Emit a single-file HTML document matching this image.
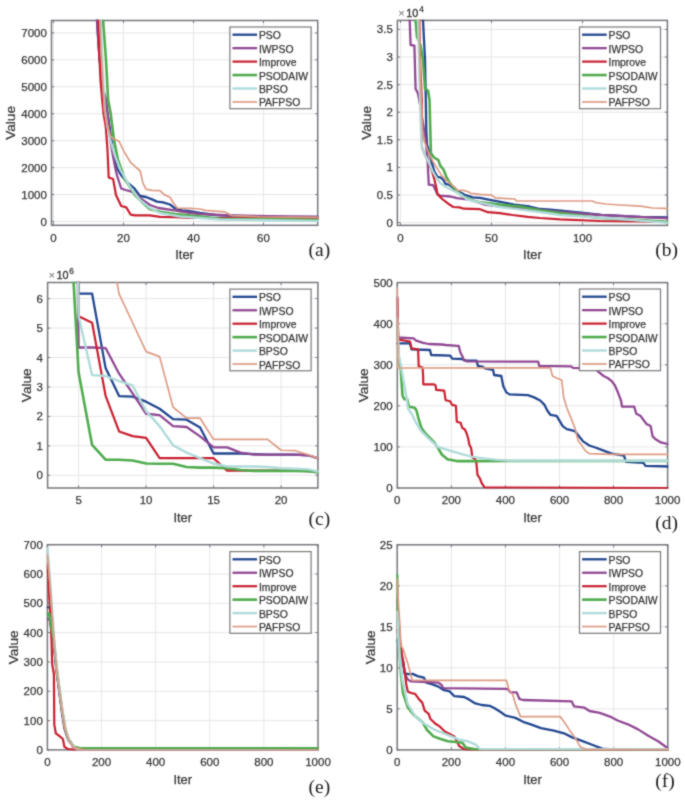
<!DOCTYPE html>
<html><head><meta charset="utf-8"><title>PSO convergence curves</title>
<style>
html,body{margin:0;padding:0;background:#fff;}
body{width:685px;height:801px;overflow:hidden;}
svg{display:block;will-change:transform;}
text{font-family:"Liberation Sans",sans-serif;fill:#363636;stroke:#363636;stroke-width:0.25px;}
.serif{font-family:"Liberation Serif",serif;fill:#1c1c1c;stroke:none;}
</style></head><body>
<svg width="685" height="801" viewBox="0 0 685 801">
<defs><filter id="bl" x="0" y="0" width="685" height="801" filterUnits="userSpaceOnUse" color-interpolation-filters="sRGB"><feConvolveMatrix order="3" kernelMatrix="1 2 1 2 12 2 1 2 1" divisor="24" edgeMode="duplicate" preserveAlpha="true"/></filter></defs>
<g filter="url(#bl)">
<rect width="685" height="801" fill="#fff"/>
<clipPath id="c1"><rect x="50.80" y="19.80" width="267.60" height="206.20"/></clipPath>
<path d="M53.50 20.50V225.30M123.50 20.50V225.30M193.50 20.50V225.30M263.50 20.50V225.30M51.50 221.50H317.70M51.50 194.56H317.70M51.50 167.62H317.70M51.50 140.68H317.70M51.50 113.74H317.70M51.50 86.80H317.70M51.50 59.86H317.70M51.50 32.92H317.70" stroke="#e6e6e6" stroke-width="1" fill="none"/>
<path d="M53.50 225.30v-2.60M53.50 20.50v2.60M123.50 225.30v-2.60M123.50 20.50v2.60M193.50 225.30v-2.60M193.50 20.50v2.60M263.50 225.30v-2.60M263.50 20.50v2.60M51.50 221.50h2.60M317.70 221.50h-2.60M51.50 194.56h2.60M317.70 194.56h-2.60M51.50 167.62h2.60M317.70 167.62h-2.60M51.50 140.68h2.60M317.70 140.68h-2.60M51.50 113.74h2.60M317.70 113.74h-2.60M51.50 86.80h2.60M317.70 86.80h-2.60M51.50 59.86h2.60M317.70 59.86h-2.60M51.50 32.92h2.60M317.70 32.92h-2.60" stroke="#74777c" stroke-width="1" fill="none"/>
<rect x="51.50" y="20.50" width="266.20" height="204.80" fill="none" stroke="#74777c" stroke-width="1.5"/>
<g clip-path="url(#c1)" fill="none" stroke-linejoin="round" stroke-linecap="round">
<path d="M96.50 5.00 L97.00 20.50 L99.00 50.00 L101.50 80.00 L104.00 100.00 L107.50 113.00 L110.00 130.00 L112.50 148.00 L115.00 160.00 L117.00 168.00 L121.00 175.00 L127.00 182.00 L134.00 188.00 L140.00 196.00 L146.00 197.00 L152.00 199.40 L157.00 201.60 L163.00 202.30 L170.00 204.50 L174.50 208.00 L181.80 210.40 L187.60 211.00 L200.00 213.00 L215.00 215.00 L245.00 216.20 L280.00 216.80 L320.00 217.00" stroke="#22468f" stroke-width="2.30"/>
<path d="M96.50 5.00 L97.00 20.50 L98.80 50.00 L102.00 85.00 L106.20 100.00 L108.80 125.00 L110.30 140.00 L112.80 155.00 L115.70 170.00 L117.20 176.00 L121.20 188.50 L125.50 190.00 L130.70 191.40 L135.00 192.80 L140.00 198.00 L150.00 205.00 L158.40 208.00 L174.50 210.40 L187.60 212.50 L200.00 214.00 L230.00 215.50 L320.00 216.80" stroke="#904893" stroke-width="2.30"/>
<path d="M98.00 5.00 L98.50 20.50 L99.10 50.00 L100.50 80.00 L102.20 100.00 L103.60 114.00 L105.80 126.90 L107.50 150.00 L108.70 177.50 L113.10 179.00 L116.00 195.00 L121.20 206.00 L126.30 207.40 L130.70 214.70 L135.00 215.40 L149.60 215.40 L160.00 216.80 L175.00 217.20 L190.00 217.80 L320.00 218.20" stroke="#c91f2f" stroke-width="2.20"/>
<path d="M102.50 5.00 L103.10 20.50 L106.00 60.00 L108.10 100.00 L110.60 113.00 L114.00 140.00 L118.00 160.00 L124.80 179.00 L135.00 195.00 L143.80 203.80 L149.60 208.90 L159.90 211.80 L175.00 214.00 L200.00 216.60 L220.00 218.70 L320.00 219.80" stroke="#4fab4d" stroke-width="2.60"/>
<path d="M99.80 5.00 L100.60 20.50 L101.80 50.00 L103.20 80.00 L104.80 110.00 L107.00 125.00 L110.20 140.00 L114.70 155.00 L120.40 170.00 L124.00 176.00 L130.00 187.00 L140.00 200.00 L150.00 208.00 L160.00 213.00 L180.00 216.50 L220.00 219.50 L320.00 221.00" stroke="#b0dada" stroke-width="2.40"/>
<path d="M99.50 5.00 L100.00 20.50 L101.00 50.00 L102.50 80.00 L104.40 110.00 L107.00 124.00 L110.00 134.50 L111.50 137.50 L119.20 141.50 L123.90 151.40 L130.90 163.00 L132.80 164.40 L140.20 171.00 L143.00 183.40 L146.00 189.20 L151.80 190.40 L160.00 190.60 L164.20 194.60 L170.00 197.20 L173.00 202.30 L177.40 208.20 L190.00 208.40 L200.00 209.00 L205.20 210.40 L225.00 211.90 L231.70 215.60 L245.00 216.20 L260.00 216.80 L320.00 217.40" stroke="#dd9b84" stroke-width="1.70"/>
</g>
<rect x="229.90" y="27.00" width="81.20" height="81.70" fill="#fff" stroke="#7a7a7a" stroke-width="1.2"/>
<path d="M232.50 34.70H257.10" stroke="#22468f" stroke-width="2.30"/>
<text x="258.90" y="39.20" font-size="10.4">PSO</text>
<path d="M232.50 48.15H257.10" stroke="#904893" stroke-width="2.30"/>
<text x="258.90" y="52.65" font-size="10.4">IWPSO</text>
<path d="M232.50 61.60H257.10" stroke="#c91f2f" stroke-width="2.20"/>
<text x="258.90" y="66.10" font-size="10.4">Improve</text>
<path d="M232.50 75.05H257.10" stroke="#4fab4d" stroke-width="2.60"/>
<text x="258.90" y="79.55" font-size="10.4">PSODAIW</text>
<path d="M232.50 88.50H257.10" stroke="#b0dada" stroke-width="2.40"/>
<text x="258.90" y="93.00" font-size="10.4">BPSO</text>
<path d="M232.50 101.95H257.10" stroke="#dd9b84" stroke-width="1.70"/>
<text x="258.90" y="106.45" font-size="10.4">PAFPSO</text>
<text x="53.50" y="241.60" font-size="11.5" text-anchor="middle">0</text>
<text x="123.50" y="241.60" font-size="11.5" text-anchor="middle">20</text>
<text x="193.50" y="241.60" font-size="11.5" text-anchor="middle">40</text>
<text x="263.50" y="241.60" font-size="11.5" text-anchor="middle">60</text>
<text x="46.90" y="225.50" font-size="11.5" text-anchor="end">0</text>
<text x="46.90" y="198.56" font-size="11.5" text-anchor="end">1000</text>
<text x="46.90" y="171.62" font-size="11.5" text-anchor="end">2000</text>
<text x="46.90" y="144.68" font-size="11.5" text-anchor="end">3000</text>
<text x="46.90" y="117.74" font-size="11.5" text-anchor="end">4000</text>
<text x="46.90" y="90.80" font-size="11.5" text-anchor="end">5000</text>
<text x="46.90" y="63.86" font-size="11.5" text-anchor="end">6000</text>
<text x="46.90" y="36.92" font-size="11.5" text-anchor="end">7000</text>
<text x="184.60" y="259.00" font-size="12.9" text-anchor="middle">Iter</text>
<text transform="translate(15.20 122.90) rotate(-90) scale(1.06 1)" font-size="12.9" text-anchor="middle">Value</text>
<text class="serif" x="308.60" y="255.90" font-size="19.5">(a)</text>
<clipPath id="c2"><rect x="396.70" y="19.70" width="271.40" height="206.40"/></clipPath>
<path d="M400.50 20.40V225.40M491.50 20.40V225.40M582.50 20.40V225.40M397.40 222.60H667.40M397.40 195.00H667.40M397.40 167.40H667.40M397.40 139.80H667.40M397.40 112.20H667.40M397.40 84.60H667.40M397.40 57.00H667.40M397.40 29.40H667.40" stroke="#e6e6e6" stroke-width="1" fill="none"/>
<path d="M400.50 225.40v-2.60M400.50 20.40v2.60M491.50 225.40v-2.60M491.50 20.40v2.60M582.50 225.40v-2.60M582.50 20.40v2.60M397.40 222.60h2.60M667.40 222.60h-2.60M397.40 195.00h2.60M667.40 195.00h-2.60M397.40 167.40h2.60M667.40 167.40h-2.60M397.40 139.80h2.60M667.40 139.80h-2.60M397.40 112.20h2.60M667.40 112.20h-2.60M397.40 84.60h2.60M667.40 84.60h-2.60M397.40 57.00h2.60M667.40 57.00h-2.60M397.40 29.40h2.60M667.40 29.40h-2.60" stroke="#74777c" stroke-width="1" fill="none"/>
<rect x="397.40" y="20.40" width="270.00" height="205.00" fill="none" stroke="#74777c" stroke-width="1.5"/>
<g clip-path="url(#c2)" fill="none" stroke-linejoin="round" stroke-linecap="round">
<path d="M423.00 5.00 L423.00 20.40 L424.00 40.00 L425.00 60.00 L425.60 90.00 L426.30 130.00 L427.00 145.00 L428.80 150.00 L431.00 160.00 L433.10 167.10 L434.40 171.50 L437.50 176.80 L441.00 177.70 L443.60 180.30 L445.40 183.80 L448.90 184.70 L452.40 187.30 L455.00 189.90 L459.40 192.10 L462.00 193.40 L465.50 195.20 L469.00 196.00 L472.50 197.40 L480.00 197.80 L489.70 199.80 L499.20 201.70 L514.40 204.60 L529.50 206.50 L540.00 209.00 L550.40 209.70 L581.00 212.70 L601.60 214.80 L640.40 216.80 L670.00 217.50" stroke="#22468f" stroke-width="2.30"/>
<path d="M409.70 5.00 L409.70 20.40 L410.60 45.00 L414.40 45.60 L415.60 88.70 L418.00 93.60 L421.00 110.00 L424.00 130.00 L425.70 140.00 L427.40 157.50 L428.80 184.70 L433.10 185.10 L437.50 194.30 L440.10 195.60 L450.60 196.50 L456.80 198.20 L461.20 198.70 L469.00 199.50 L485.00 204.60 L500.00 206.50 L530.00 209.00 L560.00 212.00 L600.00 215.00 L670.00 218.50" stroke="#904893" stroke-width="2.30"/>
<path d="M419.30 5.00 L419.40 20.40 L419.70 50.00 L420.60 75.00 L421.80 100.00 L421.50 130.00 L422.00 147.30 L425.00 155.00 L429.00 163.00 L432.00 171.00 L433.20 175.50 L434.40 179.40 L436.20 187.30 L437.50 194.30 L440.10 196.90 L442.80 199.50 L446.30 202.20 L449.80 204.80 L453.30 207.00 L459.40 207.40 L463.80 208.70 L480.00 209.20 L487.80 212.20 L500.00 213.10 L512.50 215.00 L527.60 216.90 L540.00 218.00 L560.00 219.30 L600.00 221.00 L640.00 221.50 L670.00 222.00" stroke="#c91f2f" stroke-width="2.20"/>
<path d="M415.60 5.00 L415.60 20.40 L417.00 37.00 L420.50 45.00 L423.00 60.00 L425.00 88.70 L428.00 90.50 L429.50 100.00 L430.30 130.00 L430.90 153.10 L434.00 157.50 L438.40 160.10 L440.10 165.40 L443.60 169.80 L446.30 176.80 L449.80 182.90 L455.00 189.00 L458.50 193.00 L463.80 196.90 L472.50 200.40 L480.00 202.20 L500.00 204.60 L520.00 206.50 L540.00 210.30 L560.00 213.00 L600.00 218.00 L640.00 220.00 L670.00 222.00" stroke="#4fab4d" stroke-width="2.60"/>
<path d="M417.50 5.00 L418.00 20.40 L419.00 60.00 L420.00 100.00 L421.00 130.00 L422.00 147.30 L425.00 155.00 L429.00 163.00 L432.30 170.60 L435.80 176.80 L440.10 182.90 L446.30 187.30 L453.30 190.80 L460.30 194.30 L467.30 199.50 L480.00 202.60 L500.00 207.00 L540.00 212.00 L560.00 215.00 L620.00 219.00 L670.00 223.00" stroke="#b0dada" stroke-width="2.40"/>
<path d="M419.30 5.00 L419.40 20.40 L419.70 50.00 L420.40 75.00 L420.90 90.00 L421.30 100.00 L422.50 130.00 L424.50 142.00 L429.60 154.90 L433.10 161.90 L437.50 168.90 L441.90 175.90 L446.30 180.30 L450.60 183.80 L455.00 187.30 L457.70 190.40 L463.80 190.40 L468.20 191.70 L470.80 193.40 L480.00 194.30 L491.60 195.10 L495.40 197.90 L515.00 199.00 L516.30 200.80 L540.00 201.00 L592.40 201.00 L595.40 202.50 L605.70 204.00 L620.00 205.00 L640.40 206.20 L652.70 208.00 L670.00 208.60" stroke="#dd9b84" stroke-width="1.70"/>
</g>
<rect x="579.50" y="27.00" width="81.00" height="81.70" fill="#fff" stroke="#7a7a7a" stroke-width="1.2"/>
<path d="M582.10 34.70H606.70" stroke="#22468f" stroke-width="2.30"/>
<text x="608.50" y="39.20" font-size="10.4">PSO</text>
<path d="M582.10 48.15H606.70" stroke="#904893" stroke-width="2.30"/>
<text x="608.50" y="52.65" font-size="10.4">IWPSO</text>
<path d="M582.10 61.60H606.70" stroke="#c91f2f" stroke-width="2.20"/>
<text x="608.50" y="66.10" font-size="10.4">Improve</text>
<path d="M582.10 75.05H606.70" stroke="#4fab4d" stroke-width="2.60"/>
<text x="608.50" y="79.55" font-size="10.4">PSODAIW</text>
<path d="M582.10 88.50H606.70" stroke="#b0dada" stroke-width="2.40"/>
<text x="608.50" y="93.00" font-size="10.4">BPSO</text>
<path d="M582.10 101.95H606.70" stroke="#dd9b84" stroke-width="1.70"/>
<text x="608.50" y="106.45" font-size="10.4">PAFPSO</text>
<text x="400.50" y="241.70" font-size="11.5" text-anchor="middle">0</text>
<text x="491.50" y="241.70" font-size="11.5" text-anchor="middle">50</text>
<text x="582.50" y="241.70" font-size="11.5" text-anchor="middle">100</text>
<text x="392.80" y="226.60" font-size="11.5" text-anchor="end">0</text>
<text x="392.80" y="199.00" font-size="11.5" text-anchor="end">0.5</text>
<text x="392.80" y="171.40" font-size="11.5" text-anchor="end">1</text>
<text x="392.80" y="143.80" font-size="11.5" text-anchor="end">1.5</text>
<text x="392.80" y="116.20" font-size="11.5" text-anchor="end">2</text>
<text x="392.80" y="88.60" font-size="11.5" text-anchor="end">2.5</text>
<text x="392.80" y="61.00" font-size="11.5" text-anchor="end">3</text>
<text x="392.80" y="33.40" font-size="11.5" text-anchor="end">3.5</text>
<text x="532.40" y="259.10" font-size="12.9" text-anchor="middle">Iter</text>
<text transform="translate(371.00 122.90) rotate(-90) scale(1.06 1)" font-size="12.9" text-anchor="middle">Value</text>
<text class="serif" x="655.20" y="255.90" font-size="19.5">(b)</text>
<text x="398.30" y="16.90" font-size="11.5"><tspan style="fill:#6a6a6a;stroke:none" font-size="11">&#215;</tspan><tspan dx="1.6" font-size="10.8" style="stroke-width:0.35px">10</tspan><tspan dx="0.9" dy="-5.4" font-size="8.4">4</tspan></text>
<clipPath id="c3"><rect x="46.90" y="281.80" width="271.70" height="206.90"/></clipPath>
<path d="M78.60 282.50V488.00M146.10 282.50V488.00M213.60 282.50V488.00M281.10 282.50V488.00M47.60 475.30H317.90M47.60 445.85H317.90M47.60 416.40H317.90M47.60 386.95H317.90M47.60 357.50H317.90M47.60 328.05H317.90M47.60 298.60H317.90" stroke="#e6e6e6" stroke-width="1" fill="none"/>
<path d="M78.60 488.00v-2.60M78.60 282.50v2.60M146.10 488.00v-2.60M146.10 282.50v2.60M213.60 488.00v-2.60M213.60 282.50v2.60M281.10 488.00v-2.60M281.10 282.50v2.60M47.60 475.30h2.60M317.90 475.30h-2.60M47.60 445.85h2.60M317.90 445.85h-2.60M47.60 416.40h2.60M317.90 416.40h-2.60M47.60 386.95h2.60M317.90 386.95h-2.60M47.60 357.50h2.60M317.90 357.50h-2.60M47.60 328.05h2.60M317.90 328.05h-2.60M47.60 298.60h2.60M317.90 298.60h-2.60" stroke="#74777c" stroke-width="1" fill="none"/>
<rect x="47.60" y="282.50" width="270.30" height="205.50" fill="none" stroke="#74777c" stroke-width="1.5"/>
<g clip-path="url(#c3)" fill="none" stroke-linejoin="round" stroke-linecap="round">
<path d="M65.10 -702.70 L78.60 293.59 L92.10 293.59 L105.60 368.10 L119.10 396.08 L132.60 396.67 L146.10 401.68 L159.60 408.74 L173.10 419.05 L186.60 419.64 L200.10 427.59 L213.60 453.51 L227.10 453.51 L240.60 453.51 L254.10 454.10 L267.60 454.69 L281.10 454.69 L294.60 454.69 L308.10 455.27 L321.60 459.40" stroke="#22468f" stroke-width="2.30"/>
<path d="M65.10 -702.70 L78.60 347.49 L92.10 347.49 L105.60 348.08 L119.10 373.70 L132.60 393.43 L146.10 413.75 L159.60 415.22 L173.10 426.12 L186.60 427.00 L200.10 436.43 L213.60 447.32 L227.10 447.32 L240.60 452.62 L254.10 454.69 L267.60 454.69 L281.10 454.69 L294.60 454.69 L308.10 455.27 L321.60 459.40" stroke="#904893" stroke-width="2.30"/>
<path d="M65.10 -702.70 L78.60 316.27 L92.10 322.75 L105.60 395.79 L119.10 431.42 L132.60 436.13 L146.10 437.90 L159.60 458.22 L173.10 458.22 L186.60 458.22 L200.10 458.22 L213.60 458.22 L227.10 470.59 L240.60 470.59 L254.10 470.59 L267.60 470.59 L281.10 470.59 L294.60 470.59 L308.10 471.18 L321.60 472.36" stroke="#c91f2f" stroke-width="2.20"/>
<path d="M65.10 130.74 L78.60 372.52 L92.10 444.97 L105.60 459.69 L119.10 459.69 L132.60 460.57 L146.10 463.52 L159.60 463.81 L173.10 463.81 L186.60 467.05 L200.10 467.64 L213.60 467.64 L227.10 468.23 L240.60 470.00 L254.10 470.88 L267.60 470.88 L281.10 470.88 L294.60 470.88 L308.10 471.18 L321.60 472.65" stroke="#4fab4d" stroke-width="2.60"/>
<path d="M65.10 -702.70 L78.60 316.27 L92.10 375.17 L105.60 376.05 L119.10 381.06 L132.60 385.48 L146.10 411.10 L159.60 426.12 L173.10 445.26 L186.60 452.62 L200.10 458.22 L213.60 463.52 L227.10 466.47 L240.60 466.47 L254.10 466.47 L267.60 467.05 L281.10 468.23 L294.60 468.82 L308.10 469.41 L321.60 472.36" stroke="#b0dada" stroke-width="2.40"/>
<path d="M105.60 220.26 L119.10 293.89 L132.60 322.75 L146.10 351.61 L159.60 356.62 L173.10 407.27 L186.60 418.17 L200.10 418.17 L213.60 439.37 L227.10 439.37 L240.60 439.37 L254.10 439.37 L267.60 439.37 L281.10 450.27 L294.60 450.56 L308.10 454.69 L321.60 459.40" stroke="#dd9b84" stroke-width="1.70"/>
</g>
<rect x="229.90" y="289.10" width="81.20" height="81.70" fill="#fff" stroke="#7a7a7a" stroke-width="1.2"/>
<path d="M232.50 296.80H257.10" stroke="#22468f" stroke-width="2.30"/>
<text x="258.90" y="301.30" font-size="10.4">PSO</text>
<path d="M232.50 310.25H257.10" stroke="#904893" stroke-width="2.30"/>
<text x="258.90" y="314.75" font-size="10.4">IWPSO</text>
<path d="M232.50 323.70H257.10" stroke="#c91f2f" stroke-width="2.20"/>
<text x="258.90" y="328.20" font-size="10.4">Improve</text>
<path d="M232.50 337.15H257.10" stroke="#4fab4d" stroke-width="2.60"/>
<text x="258.90" y="341.65" font-size="10.4">PSODAIW</text>
<path d="M232.50 350.60H257.10" stroke="#b0dada" stroke-width="2.40"/>
<text x="258.90" y="355.10" font-size="10.4">BPSO</text>
<path d="M232.50 364.05H257.10" stroke="#dd9b84" stroke-width="1.70"/>
<text x="258.90" y="368.55" font-size="10.4">PAFPSO</text>
<text x="78.60" y="504.30" font-size="11.5" text-anchor="middle">5</text>
<text x="146.10" y="504.30" font-size="11.5" text-anchor="middle">10</text>
<text x="213.60" y="504.30" font-size="11.5" text-anchor="middle">15</text>
<text x="281.10" y="504.30" font-size="11.5" text-anchor="middle">20</text>
<text x="43.00" y="479.30" font-size="11.5" text-anchor="end">0</text>
<text x="43.00" y="449.85" font-size="11.5" text-anchor="end">1</text>
<text x="43.00" y="420.40" font-size="11.5" text-anchor="end">2</text>
<text x="43.00" y="390.95" font-size="11.5" text-anchor="end">3</text>
<text x="43.00" y="361.50" font-size="11.5" text-anchor="end">4</text>
<text x="43.00" y="332.05" font-size="11.5" text-anchor="end">5</text>
<text x="43.00" y="302.60" font-size="11.5" text-anchor="end">6</text>
<text x="182.75" y="521.70" font-size="12.9" text-anchor="middle">Iter</text>
<text transform="translate(31.00 385.25) rotate(-90) scale(1.06 1)" font-size="12.9" text-anchor="middle">Value</text>
<text class="serif" x="308.60" y="524.60" font-size="19.5">(c)</text>
<text x="48.40" y="278.90" font-size="11.5"><tspan style="fill:#6a6a6a;stroke:none" font-size="11">&#215;</tspan><tspan dx="1.6" font-size="10.8" style="stroke-width:0.35px">10</tspan><tspan dx="0.9" dy="-5.4" font-size="8.4">6</tspan></text>
<clipPath id="c4"><rect x="396.60" y="281.90" width="271.70" height="206.80"/></clipPath>
<path d="M451.36 282.60V488.00M505.42 282.60V488.00M559.48 282.60V488.00M613.54 282.60V488.00M397.30 446.92H667.60M397.30 405.84H667.60M397.30 364.76H667.60M397.30 323.68H667.60" stroke="#e6e6e6" stroke-width="1" fill="none"/>
<path d="M397.30 488.00v-2.60M397.30 282.60v2.60M451.36 488.00v-2.60M451.36 282.60v2.60M505.42 488.00v-2.60M505.42 282.60v2.60M559.48 488.00v-2.60M559.48 282.60v2.60M613.54 488.00v-2.60M613.54 282.60v2.60M667.60 488.00v-2.60M667.60 282.60v2.60M397.30 488.00h2.60M667.60 488.00h-2.60M397.30 446.92h2.60M667.60 446.92h-2.60M397.30 405.84h2.60M667.60 405.84h-2.60M397.30 364.76h2.60M667.60 364.76h-2.60M397.30 323.68h2.60M667.60 323.68h-2.60M397.30 282.60h2.60M667.60 282.60h-2.60" stroke="#74777c" stroke-width="1" fill="none"/>
<rect x="397.30" y="282.60" width="270.30" height="205.40" fill="none" stroke="#74777c" stroke-width="1.5"/>
<g clip-path="url(#c4)" fill="none" stroke-linejoin="round" stroke-linecap="round">
<path d="M396.00 343.40 L410.00 343.40 L411.50 349.30 L430.00 350.00 L431.20 355.00 L450.20 355.60 L452.20 358.70 L462.40 359.00 L464.50 360.70 L476.70 360.70 L477.80 365.80 L482.90 366.90 L484.90 368.30 L493.10 369.90 L494.10 375.00 L501.30 376.00 L503.30 386.30 L506.40 392.40 L509.50 394.40 L527.80 395.20 L534.10 397.40 L540.20 400.50 L544.30 404.60 L547.40 410.70 L550.40 414.80 L556.60 415.80 L559.60 420.90 L562.70 426.10 L566.80 429.10 L575.00 431.20 L579.00 436.30 L583.10 441.40 L589.30 445.50 L595.40 447.50 L603.60 450.60 L611.70 453.60 L624.00 455.70 L626.00 461.80 L643.40 462.80 L645.50 465.90 L670.00 466.50" stroke="#22468f" stroke-width="2.30"/>
<path d="M397.30 297.00 L398.00 337.50 L413.70 338.40 L415.60 340.30 L420.00 341.80 L423.10 342.80 L428.70 344.00 L441.80 344.50 L446.00 345.00 L457.30 345.80 L458.70 345.90 L460.40 352.50 L462.40 356.20 L463.50 359.70 L465.20 360.00 L466.50 361.30 L538.20 361.70 L539.20 365.80 L570.90 366.40 L572.90 367.80 L595.40 368.80 L598.50 371.90 L603.60 376.00 L607.70 378.00 L611.70 381.10 L614.80 385.20 L617.90 392.30 L621.00 400.50 L622.00 406.60 L634.20 406.60 L636.30 413.80 L640.40 415.80 L643.40 419.90 L646.50 424.00 L650.60 426.10 L652.60 436.30 L655.70 439.30 L660.80 442.40 L670.00 444.60" stroke="#904893" stroke-width="2.30"/>
<path d="M397.30 299.00 L397.60 315.00 L398.50 339.70 L410.00 341.50 L411.50 348.40 L418.10 349.30 L418.70 366.20 L422.50 367.50 L423.10 375.00 L423.30 384.30 L433.80 384.30 L435.60 385.40 L436.20 389.90 L444.20 390.60 L445.60 400.20 L450.20 401.20 L452.10 404.90 L455.90 405.80 L456.80 421.80 L460.50 422.70 L462.30 428.00 L464.70 429.20 L466.40 432.70 L468.20 438.50 L469.30 444.40 L471.10 447.90 L472.30 457.20 L475.20 459.00 L476.40 463.10 L477.50 474.80 L479.90 478.30 L481.60 482.90 L484.50 487.40 L670.00 488.20" stroke="#c91f2f" stroke-width="2.20"/>
<path d="M397.30 325.00 L398.70 360.00 L400.60 367.50 L402.50 395.50 L404.40 399.30 L407.20 399.30 L409.00 406.80 L414.70 407.70 L416.50 410.50 L418.40 418.00 L421.20 427.40 L425.00 433.00 L428.70 436.70 L434.30 442.40 L438.00 448.00 L441.80 454.50 L447.40 459.20 L456.80 461.10 L475.00 461.10 L506.70 461.00 L670.00 461.00" stroke="#4fab4d" stroke-width="2.60"/>
<path d="M397.30 318.00 L398.70 354.30 L402.50 375.00 L406.20 395.50 L408.10 408.70 L411.90 414.30 L415.60 421.80 L421.20 431.10 L428.70 438.60 L438.00 447.00 L447.40 449.90 L456.80 452.70 L464.70 454.90 L471.70 456.60 L483.40 458.40 L495.00 459.60 L509.00 460.60 L670.00 460.80" stroke="#b0dada" stroke-width="2.40"/>
<path d="M397.30 288.00 L397.80 368.00 L550.40 367.80 L552.50 376.00 L556.60 378.00 L561.70 380.10 L563.70 397.40 L566.80 407.70 L570.90 417.90 L575.00 428.10 L578.00 440.40 L581.10 444.40 L585.20 450.60 L589.30 453.60 L611.70 454.30 L670.00 454.30" stroke="#dd9b84" stroke-width="1.70"/>
</g>
<rect x="579.50" y="289.00" width="81.00" height="81.70" fill="#fff" stroke="#7a7a7a" stroke-width="1.2"/>
<path d="M582.10 296.70H606.70" stroke="#22468f" stroke-width="2.30"/>
<text x="608.50" y="301.20" font-size="10.4">PSO</text>
<path d="M582.10 310.15H606.70" stroke="#904893" stroke-width="2.30"/>
<text x="608.50" y="314.65" font-size="10.4">IWPSO</text>
<path d="M582.10 323.60H606.70" stroke="#c91f2f" stroke-width="2.20"/>
<text x="608.50" y="328.10" font-size="10.4">Improve</text>
<path d="M582.10 337.05H606.70" stroke="#4fab4d" stroke-width="2.60"/>
<text x="608.50" y="341.55" font-size="10.4">PSODAIW</text>
<path d="M582.10 350.50H606.70" stroke="#b0dada" stroke-width="2.40"/>
<text x="608.50" y="355.00" font-size="10.4">BPSO</text>
<path d="M582.10 363.95H606.70" stroke="#dd9b84" stroke-width="1.70"/>
<text x="608.50" y="368.45" font-size="10.4">PAFPSO</text>
<text x="397.30" y="504.30" font-size="11.5" text-anchor="middle">0</text>
<text x="451.36" y="504.30" font-size="11.5" text-anchor="middle">200</text>
<text x="505.42" y="504.30" font-size="11.5" text-anchor="middle">400</text>
<text x="559.48" y="504.30" font-size="11.5" text-anchor="middle">600</text>
<text x="613.54" y="504.30" font-size="11.5" text-anchor="middle">800</text>
<text x="667.60" y="504.30" font-size="11.5" text-anchor="middle">1000</text>
<text x="392.70" y="492.00" font-size="11.5" text-anchor="end">0</text>
<text x="392.70" y="450.92" font-size="11.5" text-anchor="end">100</text>
<text x="392.70" y="409.84" font-size="11.5" text-anchor="end">200</text>
<text x="392.70" y="368.76" font-size="11.5" text-anchor="end">300</text>
<text x="392.70" y="327.68" font-size="11.5" text-anchor="end">400</text>
<text x="392.70" y="286.60" font-size="11.5" text-anchor="end">500</text>
<text x="532.45" y="521.70" font-size="12.9" text-anchor="middle">Iter</text>
<text transform="translate(368.30 385.30) rotate(-90) scale(1.06 1)" font-size="12.9" text-anchor="middle">Value</text>
<text class="serif" x="655.20" y="529.00" font-size="19.5">(d)</text>
<clipPath id="c5"><rect x="46.70" y="544.00" width="272.00" height="206.60"/></clipPath>
<path d="M101.52 544.70V749.90M155.64 544.70V749.90M209.76 544.70V749.90M263.88 544.70V749.90M47.40 720.59H318.00M47.40 691.27H318.00M47.40 661.96H318.00M47.40 632.64H318.00M47.40 603.33H318.00M47.40 574.02H318.00" stroke="#e6e6e6" stroke-width="1" fill="none"/>
<path d="M47.40 749.90v-2.60M47.40 544.70v2.60M101.52 749.90v-2.60M101.52 544.70v2.60M155.64 749.90v-2.60M155.64 544.70v2.60M209.76 749.90v-2.60M209.76 544.70v2.60M263.88 749.90v-2.60M263.88 544.70v2.60M318.00 749.90v-2.60M318.00 544.70v2.60M47.40 749.90h2.60M318.00 749.90h-2.60M47.40 720.59h2.60M318.00 720.59h-2.60M47.40 691.27h2.60M318.00 691.27h-2.60M47.40 661.96h2.60M318.00 661.96h-2.60M47.40 632.64h2.60M318.00 632.64h-2.60M47.40 603.33h2.60M318.00 603.33h-2.60M47.40 574.02h2.60M318.00 574.02h-2.60M47.40 544.70h2.60M318.00 544.70h-2.60" stroke="#74777c" stroke-width="1" fill="none"/>
<rect x="47.40" y="544.70" width="270.60" height="205.20" fill="none" stroke="#74777c" stroke-width="1.5"/>
<g clip-path="url(#c5)" fill="none" stroke-linejoin="round" stroke-linecap="round">
<path d="M47.50 607.40 L50.90 607.40 L53.50 640.00 L56.30 668.70 L59.10 690.20 L62.00 711.70 L64.90 729.00 L68.50 740.40 L73.50 746.90 L85.00 750.00 L320.00 750.40" stroke="#22468f" stroke-width="2.30"/>
<path d="M47.50 619.10 L49.50 619.10 L53.30 640.00 L56.20 668.70 L59.00 690.20 L61.80 711.70 L64.50 729.00 L67.50 738.00 L70.80 742.00 L73.00 747.00 L80.00 750.00 L320.00 750.40" stroke="#904893" stroke-width="2.30"/>
<path d="M47.50 564.80 L49.00 590.00 L50.50 620.00 L51.50 640.00 L52.20 664.40 L53.90 674.40 L54.30 724.60 L55.80 733.30 L58.60 735.40 L62.90 739.00 L64.40 746.90 L68.00 749.00 L73.70 749.60 L320.00 749.60" stroke="#c91f2f" stroke-width="2.20"/>
<path d="M47.50 613.60 L49.00 613.60 L53.80 640.00 L56.70 668.70 L59.50 690.20 L62.40 711.70 L65.30 729.00 L68.90 740.40 L73.90 746.80 L80.00 748.20 L320.00 748.20" stroke="#4fab4d" stroke-width="2.60"/>
<path d="M47.50 548.30 L50.00 580.00 L52.80 620.00 L54.60 645.00 L56.80 668.00 L59.60 690.00 L62.50 711.00 L65.50 729.00 L69.00 740.40 L74.00 747.30 L80.00 750.20 L320.00 750.60" stroke="#b0dada" stroke-width="2.40"/>
<path d="M47.50 555.00 L50.00 585.00 L52.60 620.00 L54.40 645.00 L56.60 668.00 L59.40 690.00 L62.30 711.00 L65.30 729.00 L69.00 741.00 L74.00 747.60 L85.00 750.20 L320.00 750.40" stroke="#dd9b84" stroke-width="1.70"/>
</g>
<rect x="229.90" y="551.60" width="81.20" height="81.70" fill="#fff" stroke="#7a7a7a" stroke-width="1.2"/>
<path d="M232.50 559.30H257.10" stroke="#22468f" stroke-width="2.30"/>
<text x="258.90" y="563.80" font-size="10.4">PSO</text>
<path d="M232.50 572.75H257.10" stroke="#904893" stroke-width="2.30"/>
<text x="258.90" y="577.25" font-size="10.4">IWPSO</text>
<path d="M232.50 586.20H257.10" stroke="#c91f2f" stroke-width="2.20"/>
<text x="258.90" y="590.70" font-size="10.4">Improve</text>
<path d="M232.50 599.65H257.10" stroke="#4fab4d" stroke-width="2.60"/>
<text x="258.90" y="604.15" font-size="10.4">PSODAIW</text>
<path d="M232.50 613.10H257.10" stroke="#b0dada" stroke-width="2.40"/>
<text x="258.90" y="617.60" font-size="10.4">BPSO</text>
<path d="M232.50 626.55H257.10" stroke="#dd9b84" stroke-width="1.70"/>
<text x="258.90" y="631.05" font-size="10.4">PAFPSO</text>
<text x="47.40" y="766.20" font-size="11.5" text-anchor="middle">0</text>
<text x="101.52" y="766.20" font-size="11.5" text-anchor="middle">200</text>
<text x="155.64" y="766.20" font-size="11.5" text-anchor="middle">400</text>
<text x="209.76" y="766.20" font-size="11.5" text-anchor="middle">600</text>
<text x="263.88" y="766.20" font-size="11.5" text-anchor="middle">800</text>
<text x="318.00" y="766.20" font-size="11.5" text-anchor="middle">1000</text>
<text x="42.80" y="753.90" font-size="11.5" text-anchor="end">0</text>
<text x="42.80" y="724.59" font-size="11.5" text-anchor="end">100</text>
<text x="42.80" y="695.27" font-size="11.5" text-anchor="end">200</text>
<text x="42.80" y="665.96" font-size="11.5" text-anchor="end">300</text>
<text x="42.80" y="636.64" font-size="11.5" text-anchor="end">400</text>
<text x="42.80" y="607.33" font-size="11.5" text-anchor="end">500</text>
<text x="42.80" y="578.02" font-size="11.5" text-anchor="end">600</text>
<text x="42.80" y="548.70" font-size="11.5" text-anchor="end">700</text>
<text x="182.70" y="783.60" font-size="12.9" text-anchor="middle">Iter</text>
<text transform="translate(18.30 647.30) rotate(-90) scale(1.06 1)" font-size="12.9" text-anchor="middle">Value</text>
<text class="serif" x="308.60" y="793.40" font-size="19.5">(e)</text>
<clipPath id="c6"><rect x="396.50" y="544.10" width="272.00" height="206.50"/></clipPath>
<path d="M451.32 544.80V749.90M505.44 544.80V749.90M559.56 544.80V749.90M613.68 544.80V749.90M397.20 708.88H667.80M397.20 667.86H667.80M397.20 626.84H667.80M397.20 585.82H667.80" stroke="#e6e6e6" stroke-width="1" fill="none"/>
<path d="M397.20 749.90v-2.60M397.20 544.80v2.60M451.32 749.90v-2.60M451.32 544.80v2.60M505.44 749.90v-2.60M505.44 544.80v2.60M559.56 749.90v-2.60M559.56 544.80v2.60M613.68 749.90v-2.60M613.68 544.80v2.60M667.80 749.90v-2.60M667.80 544.80v2.60M397.20 749.90h2.60M667.80 749.90h-2.60M397.20 708.88h2.60M667.80 708.88h-2.60M397.20 667.86h2.60M667.80 667.86h-2.60M397.20 626.84h2.60M667.80 626.84h-2.60M397.20 585.82h2.60M667.80 585.82h-2.60M397.20 544.80h2.60M667.80 544.80h-2.60" stroke="#74777c" stroke-width="1" fill="none"/>
<rect x="397.20" y="544.80" width="270.60" height="205.10" fill="none" stroke="#74777c" stroke-width="1.5"/>
<g clip-path="url(#c6)" fill="none" stroke-linejoin="round" stroke-linecap="round">
<path d="M397.20 640.00 L402.00 660.00 L403.20 661.40 L404.70 673.40 L408.50 674.10 L412.70 673.90 L417.50 676.10 L423.90 677.70 L426.30 682.60 L431.90 684.20 L438.40 686.60 L443.20 689.80 L449.60 691.40 L454.40 696.20 L464.10 697.00 L468.90 699.40 L475.30 703.40 L481.70 705.00 L489.70 705.80 L494.60 708.30 L501.00 712.30 L505.20 715.40 L515.40 717.90 L523.10 721.80 L530.80 724.30 L541.00 728.10 L553.80 730.70 L564.00 733.30 L571.60 737.10 L581.90 740.90 L592.10 744.80 L602.30 748.60 L615.10 749.70 L670.00 749.80" stroke="#22468f" stroke-width="2.30"/>
<path d="M397.20 600.00 L400.00 640.00 L403.00 665.00 L405.50 675.00 L407.70 679.40 L411.10 681.40 L438.40 682.60 L441.60 685.00 L443.20 688.20 L505.00 688.80 L507.80 689.00 L510.30 692.40 L516.70 692.40 L519.30 698.80 L523.10 700.00 L571.60 701.30 L574.20 706.40 L584.40 707.70 L589.50 711.00 L599.80 712.80 L610.00 716.60 L617.60 720.50 L627.90 724.30 L638.10 729.40 L648.30 735.80 L658.50 741.50 L667.80 748.30 L670.00 749.00" stroke="#904893" stroke-width="2.30"/>
<path d="M397.20 630.00 L401.00 646.40 L401.70 653.90 L403.20 661.40 L404.70 671.90 L406.20 683.90 L407.80 691.40 L411.10 693.00 L415.10 693.80 L419.10 699.40 L422.30 702.60 L424.70 710.70 L428.70 713.90 L430.30 718.70 L435.10 723.50 L440.00 726.70 L444.80 731.50 L449.60 734.00 L454.40 736.40 L455.20 738.00 L459.20 746.00 L464.00 749.20 L470.00 749.80 L670.00 749.80" stroke="#c91f2f" stroke-width="2.20"/>
<path d="M397.20 575.00 L398.00 629.90 L399.00 640.00 L399.80 656.00 L401.00 674.90 L403.00 693.00 L407.80 707.40 L414.30 715.50 L422.30 721.90 L427.10 730.00 L433.50 736.40 L440.00 738.80 L448.00 741.20 L456.00 742.00 L462.40 742.80 L465.70 747.60 L475.30 749.20 L670.00 749.40" stroke="#4fab4d" stroke-width="2.60"/>
<path d="M397.20 612.00 L397.60 617.90 L398.70 644.90 L401.00 667.40 L402.20 680.10 L407.80 704.20 L415.90 717.10 L423.90 723.50 L435.10 730.00 L443.20 733.10 L451.20 736.40 L459.20 739.60 L467.30 741.20 L475.30 744.40 L480.10 749.10 L670.00 749.20" stroke="#b0dada" stroke-width="2.40"/>
<path d="M397.20 579.00 L397.50 584.20 L398.70 607.50 L400.20 629.90 L401.00 646.40 L402.50 647.90 L404.00 651.60 L405.50 656.90 L407.70 662.90 L410.00 671.90 L412.20 680.40 L506.50 680.40 L509.00 689.80 L512.90 694.90 L515.40 703.90 L520.50 716.60 L560.10 716.60 L564.00 721.80 L569.10 729.40 L575.50 738.40 L580.60 747.30 L587.00 749.60 L670.00 749.60" stroke="#dd9b84" stroke-width="1.70"/>
</g>
<rect x="579.50" y="551.60" width="81.00" height="81.70" fill="#fff" stroke="#7a7a7a" stroke-width="1.2"/>
<path d="M582.10 559.30H606.70" stroke="#22468f" stroke-width="2.30"/>
<text x="608.50" y="563.80" font-size="10.4">PSO</text>
<path d="M582.10 572.75H606.70" stroke="#904893" stroke-width="2.30"/>
<text x="608.50" y="577.25" font-size="10.4">IWPSO</text>
<path d="M582.10 586.20H606.70" stroke="#c91f2f" stroke-width="2.20"/>
<text x="608.50" y="590.70" font-size="10.4">Improve</text>
<path d="M582.10 599.65H606.70" stroke="#4fab4d" stroke-width="2.60"/>
<text x="608.50" y="604.15" font-size="10.4">PSODAIW</text>
<path d="M582.10 613.10H606.70" stroke="#b0dada" stroke-width="2.40"/>
<text x="608.50" y="617.60" font-size="10.4">BPSO</text>
<path d="M582.10 626.55H606.70" stroke="#dd9b84" stroke-width="1.70"/>
<text x="608.50" y="631.05" font-size="10.4">PAFPSO</text>
<text x="397.20" y="766.20" font-size="11.5" text-anchor="middle">0</text>
<text x="451.32" y="766.20" font-size="11.5" text-anchor="middle">200</text>
<text x="505.44" y="766.20" font-size="11.5" text-anchor="middle">400</text>
<text x="559.56" y="766.20" font-size="11.5" text-anchor="middle">600</text>
<text x="613.68" y="766.20" font-size="11.5" text-anchor="middle">800</text>
<text x="667.80" y="766.20" font-size="11.5" text-anchor="middle">1000</text>
<text x="392.60" y="753.90" font-size="11.5" text-anchor="end">0</text>
<text x="392.60" y="712.88" font-size="11.5" text-anchor="end">5</text>
<text x="392.60" y="671.86" font-size="11.5" text-anchor="end">10</text>
<text x="392.60" y="630.84" font-size="11.5" text-anchor="end">15</text>
<text x="392.60" y="589.82" font-size="11.5" text-anchor="end">20</text>
<text x="392.60" y="548.80" font-size="11.5" text-anchor="end">25</text>
<text x="532.50" y="783.60" font-size="12.9" text-anchor="middle">Iter</text>
<text transform="translate(374.60 647.35) rotate(-90) scale(1.06 1)" font-size="12.9" text-anchor="middle">Value</text>
<text class="serif" x="655.20" y="787.20" font-size="19.5">(f)</text>
</g>
</svg>
</body></html>
